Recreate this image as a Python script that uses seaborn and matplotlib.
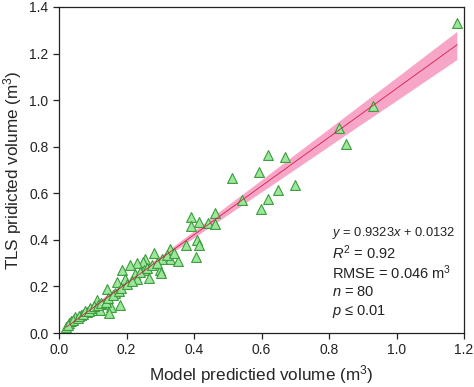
import numpy as np
import pandas as pd
import matplotlib
matplotlib.use("Agg")
import matplotlib.pyplot as plt
import seaborn as sns

# ==============================================================================
# DATA
# ==============================================================================
model_volume = [
    1.180, 0.930, 0.830, 0.850, 0.619, 0.669, 0.513, 0.593, 0.700, 0.648,
    0.542, 0.619, 0.599, 0.390, 0.461, 0.390, 0.414, 0.441, 0.461, 0.408,
    0.416, 0.376, 0.406, 0.329, 0.281, 0.329, 0.353, 0.305, 0.299, 0.301,
    0.256, 0.248, 0.232, 0.210, 0.187, 0.252, 0.224, 0.232, 0.266, 0.195,
    0.171, 0.141, 0.167, 0.112, 0.133, 0.153, 0.181, 0.149, 0.121, 0.098,
    0.082, 0.066, 0.048, 0.031, 0.021, 0.036, 0.042, 0.055, 0.060, 0.072,
    0.078, 0.088, 0.092, 0.105, 0.115, 0.125, 0.138, 0.145, 0.160, 0.178,
    0.185, 0.200, 0.215, 0.240, 0.262, 0.275, 0.290, 0.320, 0.340, 0.026,
]
tls_volume = [
    1.330, 0.976, 0.880, 0.810, 0.764, 0.754, 0.667, 0.691, 0.634, 0.613,
    0.573, 0.575, 0.532, 0.497, 0.517, 0.459, 0.477, 0.474, 0.468, 0.399,
    0.376, 0.379, 0.328, 0.362, 0.345, 0.319, 0.308, 0.316, 0.272, 0.259,
    0.316, 0.305, 0.299, 0.291, 0.270, 0.270, 0.253, 0.233, 0.236, 0.231,
    0.219, 0.188, 0.170, 0.142, 0.125, 0.110, 0.119, 0.087, 0.099, 0.099,
    0.090, 0.076, 0.067, 0.044, 0.027, 0.050, 0.055, 0.066, 0.071, 0.083,
    0.096, 0.095, 0.108, 0.115, 0.120, 0.128, 0.135, 0.150, 0.165, 0.180,
    0.195, 0.210, 0.225, 0.260, 0.280, 0.290, 0.300, 0.335, 0.345, 0.035,
]

stats_lines = [
    r"$y$ = 0.9323$x$ + 0.0132",
    r"$R^2$ = 0.92",
    r"RMSE = 0.046 m$^3$",
    r"$n$ = 80",
    r"$p$ ≤ 0.01",
]
stats_sizes = [9.3, 10.5, 10.5, 10.5, 10.5]

x_ticks = [0.0, 0.2, 0.4, 0.6, 0.8, 1.0, 1.2]
y_ticks = [0.0, 0.2, 0.4, 0.6, 0.8, 1.0, 1.2, 1.4]

# ==============================================================================
# PLOT
# ==============================================================================
def main():
    sns.set_style("ticks")
    plt.rcParams["font.family"] = ["Liberation Sans", "DejaVu Sans"]
    plt.rcParams["mathtext.fontset"] = "custom"
    plt.rcParams["mathtext.rm"] = "Liberation Sans"
    plt.rcParams["mathtext.it"] = "Liberation Sans:italic"

    df = pd.DataFrame({"model": model_volume, "tls": tls_volume})

    fig = plt.figure(figsize=(4.74, 3.87), dpi=100)
    ax = fig.add_axes([0.1245, 0.1395, 0.8545, 0.8425])

    sns.regplot(
        data=df, x="model", y="tls", ax=ax, scatter=False, ci=95,
        color="#f7a6c7", line_kws={"color": "#d81b4a", "linewidth": 0.6, "zorder": 4},
    )
    # solid light-pink confidence band
    for coll in ax.collections:
        coll.set_facecolor("#f7a6c7")
        coll.set_edgecolor("none")
        coll.set_alpha(1.0)
        coll.set_zorder(2)

    sns.scatterplot(
        data=df, x="model", y="tls", ax=ax, marker="^", s=50,
        color="#9de79d", edgecolor="#3c9c3c", linewidth=0.8, zorder=3,
    )

    ax.set_xlim(0, 1.2)
    ax.set_ylim(0, 1.4)
    ax.set_xticks(x_ticks)
    ax.set_yticks(y_ticks)
    ax.set_xticklabels([f"{t:.1f}" for t in x_ticks])
    ax.set_yticklabels([f"{t:.1f}" for t in y_ticks])
    ax.tick_params(direction="out", length=4, width=0.9, labelsize=10, colors="#222222")
    for side in ["left", "bottom", "right", "top"]:
        ax.spines[side].set_visible(True)
        ax.spines[side].set_linewidth(0.9)
        ax.spines[side].set_color("#222222")

    ax.set_xlabel(r"Model predictied volume (m$^3$)", fontsize=12.3, labelpad=4)
    ax.set_ylabel(r"TLS pridicted volume (m$^3$)", fontsize=12.3, labelpad=4)

    y0 = 0.307
    for i, (line, fs) in enumerate(zip(stats_lines, stats_sizes)):
        ax.text(0.673, y0 - i * 0.0605, line, transform=ax.transAxes,
                fontsize=fs, ha="left", va="center", color="#222222")

    fig.savefig("out.png", dpi=100)
    plt.close(fig)


if __name__ == "__main__":
    main()
